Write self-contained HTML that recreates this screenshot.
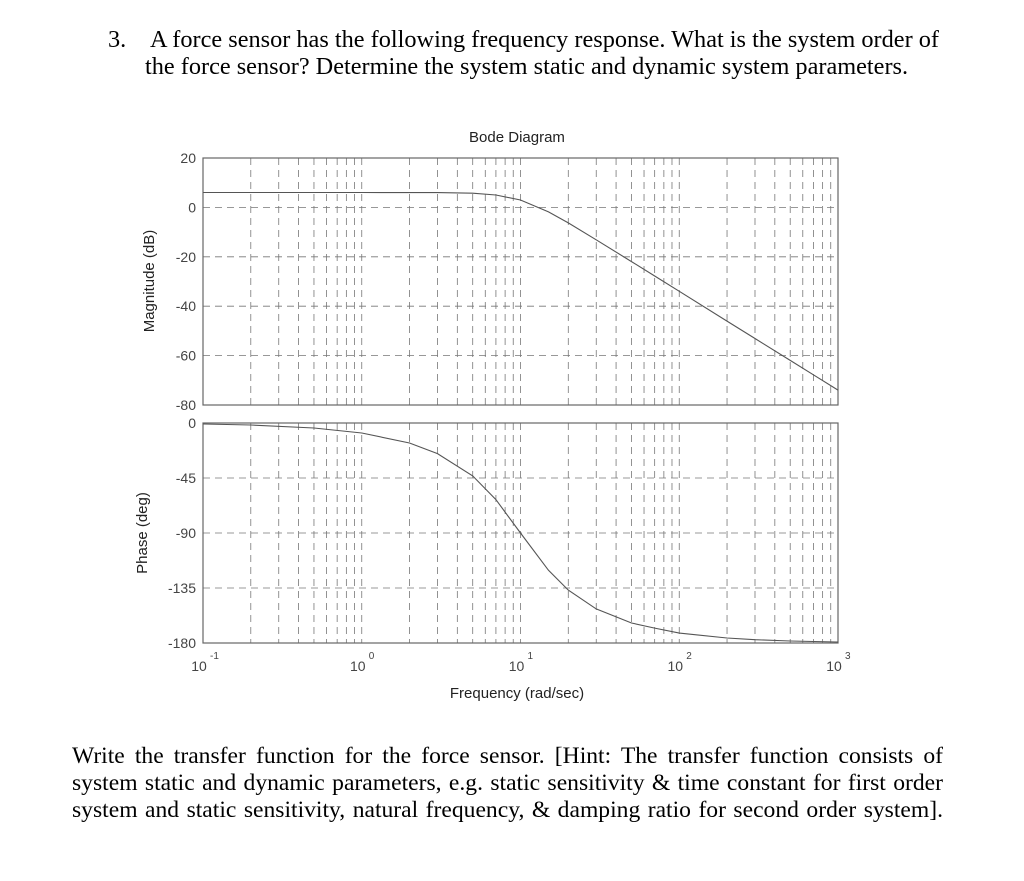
<!DOCTYPE html>
<html><head><meta charset="utf-8"><style>
body{margin:0;background:#fff;width:1024px;height:881px;overflow:hidden;position:relative;font-family:"Liberation Serif",serif;color:#000}
.q{position:absolute;font-size:24.3px;line-height:28px;white-space:nowrap}
.b{position:absolute;left:72px;width:871px;font-size:23.6px;line-height:27.5px;text-align:justify;text-align-last:justify;white-space:nowrap}
</style></head><body>
<div class="q" style="left:108px;top:26px">3.</div>
<div class="q" style="left:150px;top:26px">A force sensor has the following frequency response. What is the system order of</div>
<div class="q" style="left:145px;top:53px">the force sensor? Determine the system static and dynamic system parameters.</div>
<svg id="chart" width="1024" height="881" style="position:absolute;left:0;top:0" font-family="Liberation Sans, sans-serif"></svg>
<div class="b" style="top:743px">Write the transfer function for the force sensor. [Hint: The transfer function consists of</div>
<div class="b" style="top:770px">system static and dynamic parameters, e.g. static sensitivity &amp; time constant for first order</div>
<div class="b" style="top:797px">system and static sensitivity, natural frequency, &amp; damping ratio for second order system].</div>
<script>
const freqs=[0.1,0.2,0.5,1,2,3,5,7,10,15,20,30,50,70,100,200,300,500,700,1000];
const magDb=[6.02,6.02,6.02,6.02,6.01,5.98,5.75,5.02,3.01,-1.81,-6.28,-13.12,-21.95,-27.79,-33.98,-46.02,-53.07,-61.94,-67.78,-73.98];
const phaseDeg=[-0.8,-1.6,-4.1,-8.2,-16.4,-25,-43.3,-62.7,-90,-120.5,-136.7,-152.1,-163.6,-167.8,-171.9,-175.9,-177.3,-178.4,-178.8,-179.2];
const magTicks=[20,0,-20,-40,-60,-80];
const phaseTicks=[0,-45,-90,-135,-180];
const decades=[-1,0,1,2,3];
const svg=document.getElementById('chart');const NS='http://www.w3.org/2000/svg';
const X0=203,X1=838;
const xs=w=>X0+(Math.log10(w)+1)/4*(X1-X0);
const M={top:158,bot:405,max:20,min:-80},P={top:423,bot:643,max:0,min:-180};
const ys=(ax,v)=>ax.top+(ax.max-v)/(ax.max-ax.min)*(ax.bot-ax.top);
function el(t,a,p){const e=document.createElementNS(NS,t);for(const k in a)e.setAttribute(k,a[k]);(p||svg).appendChild(e);return e;}
function panel(ax,ticks,vals,nm){
 const g=el('g',{});
 
 
 for(let d=-1;d<3;d++)for(let m=1;m<10;m++){const w=m*Math.pow(10,d);if(m===1&&d===-1)continue;const x=xs(w);
  const l=el('line',{x1:x,x2:x,y1:ax.top,y2:ax.bot,stroke:'#777','stroke-width':0.8,'stroke-dasharray':'7,5'},g);
  
  }
 ticks.forEach(t=>{const y=ys(ax,t);
  if(t!==ax.max&&t!==ax.min){const l=el('line',{x1:X0,x2:X1,y1:y,y2:y,stroke:'#777','stroke-width':0.8,'stroke-dasharray':'7,5'},g);
   
   }
  const tx=el('text',{x:X0-7,y:y+5,'text-anchor':'end','font-size':14,fill:'#444'},g);tx.textContent=t;
  
  });
 const r=el('rect',{x:X0,y:ax.top,width:X1-X0,height:ax.bot-ax.top,fill:'none',stroke:'#666','stroke-width':1.2},g);
 
 
 const pts=freqs.map((w,i)=>xs(w).toFixed(1)+','+ys(ax,vals[i]).toFixed(1)).join(' ');
 const pl=el('polyline',{points:pts,fill:'none',stroke:'#555','stroke-width':1.1},g);
 
 
}
panel(M,magTicks,magDb,'magnitude');
panel(P,phaseTicks,phaseDeg,'phase');
decades.forEach(d=>{const x=xs(Math.pow(10,d));const t=el('text',{x:x-4,y:671,'text-anchor':'middle','font-size':14,fill:'#444'});t.textContent='10';
 
 
 const s=el('text',{x:x+7,y:659,'font-size':10,fill:'#444'});s.textContent=d;
 
 });
const ti=el('text',{x:517,y:142,'text-anchor':'middle','font-size':15,fill:'#222'});ti.textContent='Bode Diagram';


const xl=el('text',{x:517,y:698,'text-anchor':'middle','font-size':15,fill:'#222'});xl.textContent='Frequency  (rad/sec)';


const y1=el('text',{x:0,y:0,'text-anchor':'middle','font-size':15,fill:'#222',transform:'translate(154,281) rotate(-90)'});y1.textContent='Magnitude (dB)';


const y2=el('text',{x:0,y:0,'text-anchor':'middle','font-size':15,fill:'#222',transform:'translate(147,533) rotate(-90)'});y2.textContent='Phase (deg)';


</script>
</body></html>
